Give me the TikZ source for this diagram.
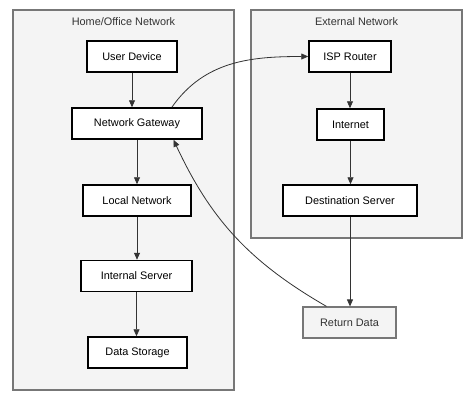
\documentclass[tikz,border=0pt]{standalone}
\usepackage{fontspec}
\setmainfont{Liberation Sans}
\usetikzlibrary{arrows.meta}
\definecolor{clusterfill}{HTML}{F4F4F4}
\definecolor{clusterline}{HTML}{777777}
\definecolor{edgeline}{HTML}{333333}

\begin{document}
\begin{tikzpicture}[x=1pt, y=-1pt,
  every node/.style={font=\fontsize{10.9}{13}\selectfont},
  box/.style={draw, line width=1.5pt, fill=white, minimum height=31pt, inner sep=0pt},
  softbox/.style={draw=clusterline, line width=1.2pt, fill=clusterfill, text=edgeline, minimum height=31pt, inner sep=0pt},
  cluster/.style={draw=clusterline, line width=1.2pt, fill=clusterfill},
  title/.style={text=edgeline},
  arr/.style={draw=edgeline, line width=0.8pt, -{Triangle[length=7pt,width=6pt]}}]
\useasboundingbox (0,0) rectangle (474,402);
\draw[cluster] (13,10) rectangle (234,390);
\draw[cluster] (251,10) rectangle (462,238);
\node[title] (hometitle) at (123.5,22) {Home/Office Network};
\node[title] (exttitle) at (356.5,22) {External Network};
\node[box, minimum width=90pt] (ud) at (132,56.5) {User Device};
\node[box, minimum width=130pt] (gw) at (137,123.5) {Network Gateway};
\node[box, minimum width=108pt] (ln) at (137,200.5) {Local Network};
\node[box, minimum width=111pt] (is) at (136.5,276) {Internal Server};
\node[box, minimum width=99pt] (ds) at (137.5,352.5) {Data Storage};
\node[box, minimum width=82pt] (isp) at (350,56.5) {ISP Router};
\node[box, minimum width=67pt] (inet) at (350.5,124.5) {Internet};
\node[box, minimum width=134pt] (dest) at (350,200.5) {Destination Server};
\node[softbox, minimum width=93pt] (rd) at (349.5,322.5) {Return Data};
\draw[arr] (ud.south) -- (ud.south |- gw.north);
\draw[arr] (gw.south) -- (gw.south |- ln.north);
\draw[arr] (ln.south) -- (ln.south |- is.north);
\draw[arr] (is.south) -- (is.south |- ds.north);
\draw[arr] (isp.south) -- (isp.south |- inet.north);
\draw[arr] (inet.south) -- (inet.south |- dest.north);
\draw[arr] (dest.south) -- (dest.south |- rd.north);
\draw[arr] (gw.25) to[out=55, in=180] (isp.west);
\draw[arr] (rd.145) to[out=150, in=-65] (gw.-24);
\end{tikzpicture}
\end{document}
